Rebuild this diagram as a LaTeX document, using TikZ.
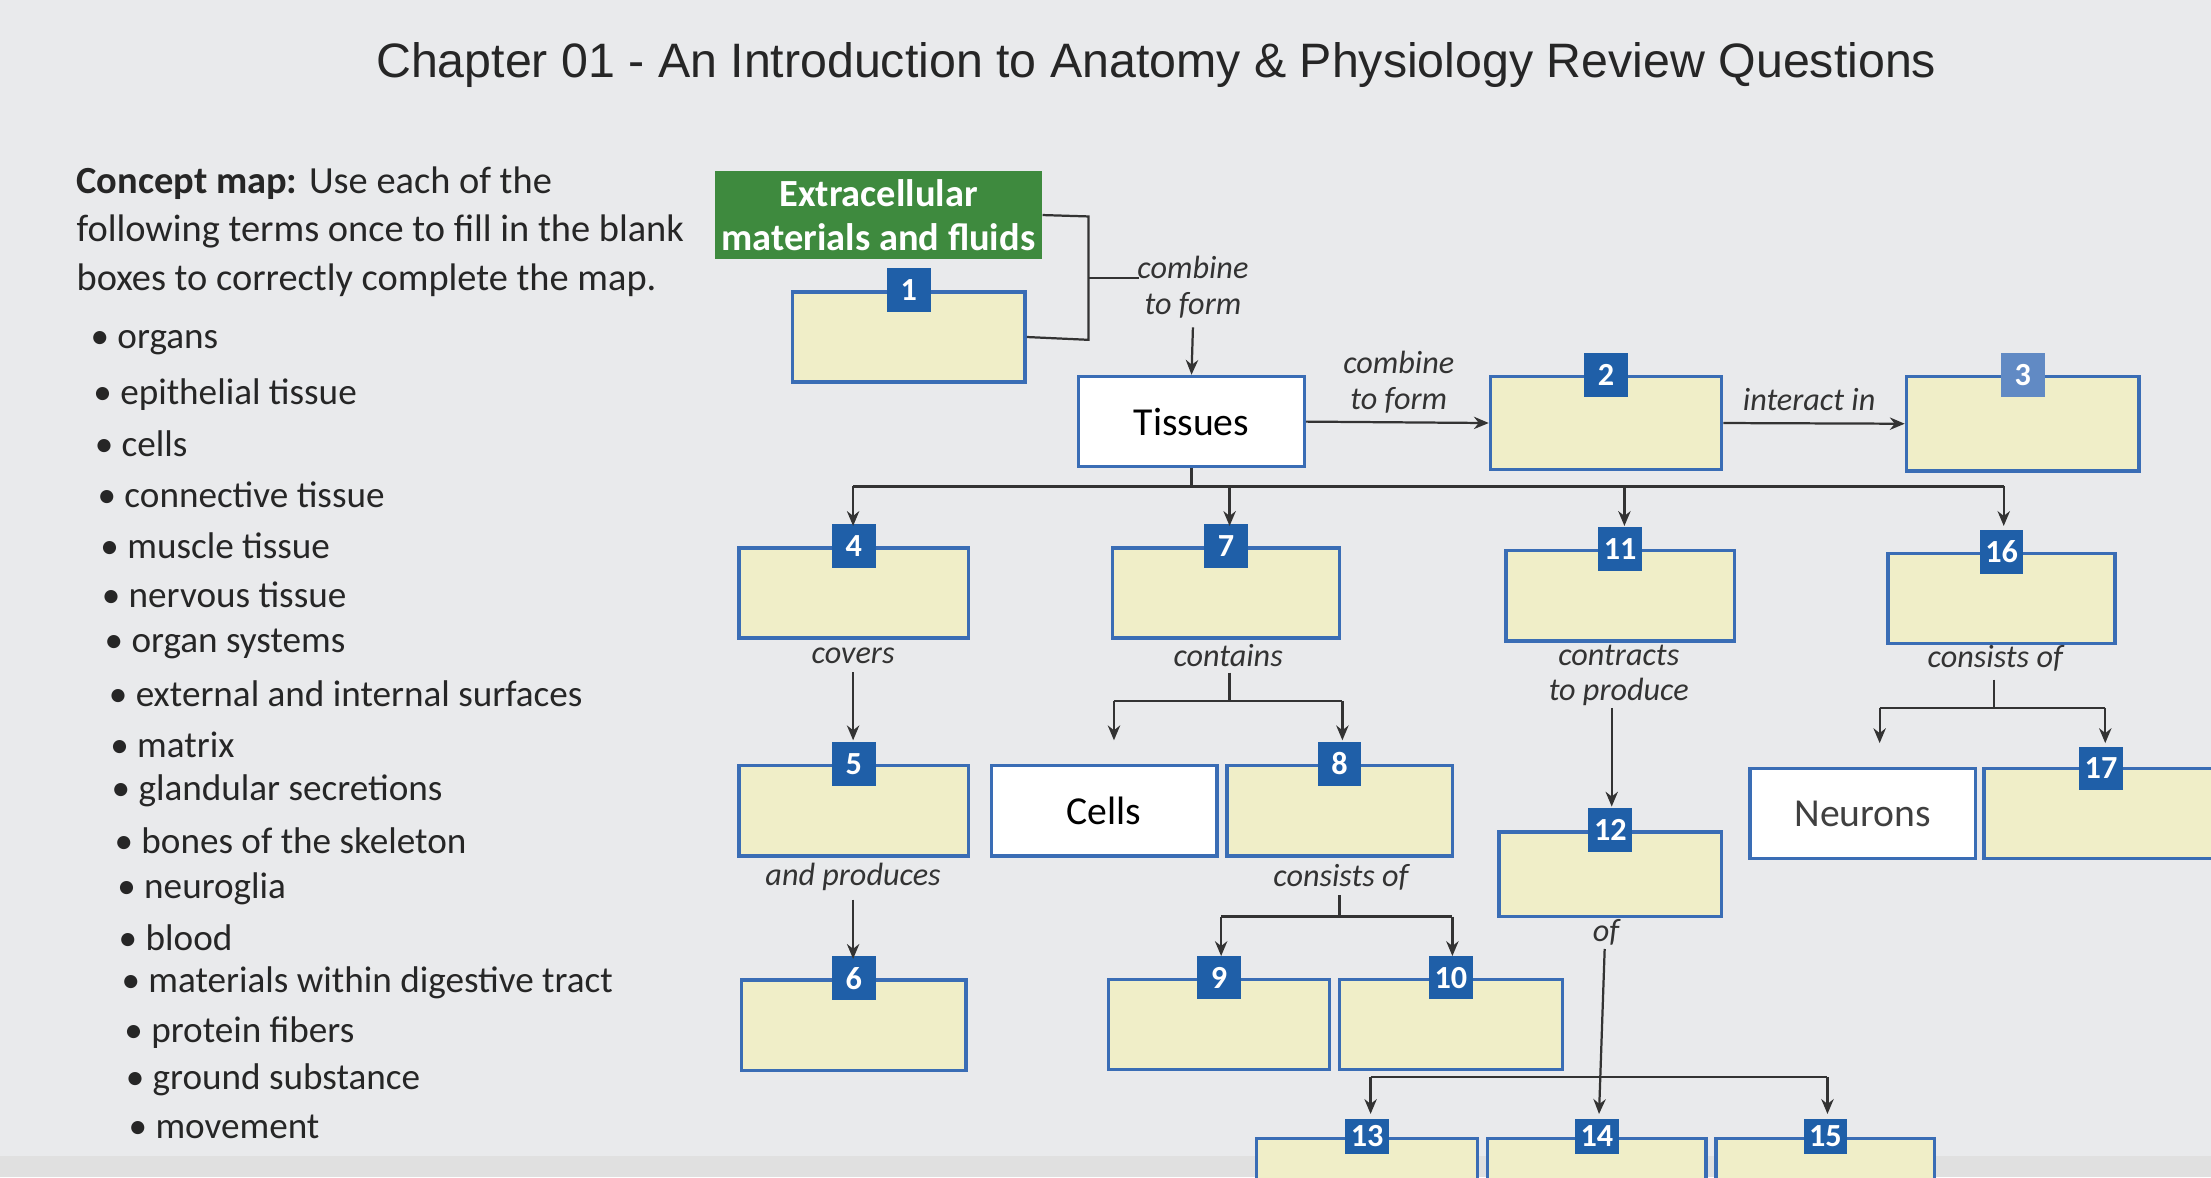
\documentclass[tikz,border=0pt]{standalone}
\usepackage{fontspec}
\setmainfont{Carlito}
\newfontfamily\titlefont{Liberation Sans}
\usetikzlibrary{arrows.meta}
\begin{document}
\definecolor{bg}{HTML}{E9EAEC}
\definecolor{bblue}{HTML}{3A6DB5}
\definecolor{badgec}{HTML}{1F5FA8}
\definecolor{byel}{HTML}{F0EEC8}
\definecolor{ggreen}{HTML}{3E8A3E}
\definecolor{ln}{HTML}{333333}
\begin{tikzpicture}[x=0.02cm,y=-0.02cm,
  box/.style={draw=bblue,line width=1.4pt,fill=byel,minimum height=1.28cm,minimum width=#1,inner sep=0pt},
  wbox/.style={box=#1,fill=white,font=\fontsize{16}{19}\selectfont},
  badge/.style={fill=badgec,text=white,font=\bfseries\fontsize{13}{15}\selectfont,minimum size=0.62cm,inner sep=0pt},
  lab/.style={font=\itshape\fontsize{13}{14.5}\selectfont,text=ln,align=center},
  con/.style={draw=ln,line width=0.9pt},
  arr/.style={con,-{Stealth[length=6pt,width=5pt]}},
  item/.style={anchor=west,font=\fontsize{15}{18}\selectfont,text=black!85}]
\useasboundingbox (0,0) rectangle (1568,835);
\clip (0,0) rectangle (1568,835);
\fill[bg] (0,0) rectangle (1568,835);
\fill[black!12] (0,820) rectangle (1568,835);
\node[font=\titlefont\fontsize{19.5}{23}\selectfont,text=black!85] (title) at (820,46) {Chapter 01 - An Introduction to Anatomy \& Physiology Review Questions};
\node[anchor=north west,align=left,font=\fontsize{15.5}{19.5}\selectfont,text=black!85,inner sep=0pt] (intro) at (54,118) {\textbf{Concept map:} Use each of the\\following terms once to fill in the blank\\boxes to correctly complete the map.};
\foreach \t/\x/\y [count=\i] in {organs/58/243, epithelial tissue/60/280, cells/61/315, connective tissue/63/351, muscle tissue/65/387, nervous tissue/66/422, organ systems/68/457, external and internal surfaces/71/492, matrix/72/528, glandular secretions/73/561, bones of the skeleton/75/596, neuroglia/77/630, blood/78/665, materials within digestive tract/80/697, protein fibers/82/732, ground substance/83/766, movement/85/799}
  \node[item] (it\i) at (\x,\y) {• \t};
% boxes
\node[fill=ggreen,text=white,font=\bfseries\fontsize{15.5}{18}\selectfont,align=center,minimum width=4.64cm,minimum height=1.26cm,inner sep=0pt] (ecm) at (623,152.5) {Extracellular\\materials and fluids};
\node[box=3.3cm] (b1) at (644.5,239) {};
\node[wbox=3.2cm] (tis) at (845,299) {Tissues};
\node[box=3.28cm,minimum height=1.32cm] (b2) at (1139,300) {};
\node[box=3.3cm,minimum height=1.34cm] (b3) at (1434.5,300.5) {};
\node[box=3.26cm] (b4) at (605.5,420.5) {};
\node[box=3.22cm] (b7) at (869.5,420.5) {};
\node[box=3.24cm] (b11) at (1149,422.5) {};
\node[box=3.22cm] (b16) at (1419.5,424.5) {};
\node[box=3.26cm] (b5) at (605.5,575) {};
\node[wbox=3.2cm] (cells) at (783,575) {Cells};
\node[box=3.2cm] (b8) at (950,575) {};
\node[box=3.16cm,minimum height=1.2cm] (b12) at (1142,620) {};
\node[wbox=3.2cm,text=black!75] (neur) at (1321,577) {Neurons};
\node[box=3.32cm] (b17) at (1490,577) {};
\node[box=3.18cm] (b6) at (605.5,727) {};
\node[box=3.14cm] (b9) at (864.5,726.5) {};
\node[box=3.16cm] (b10) at (1029,726.5) {};
\node[box=3.14cm,anchor=north] (b13) at (969.5,806) {};
\node[box=3.1cm,anchor=north] (b14) at (1132.5,806) {};
\node[box=3.1cm,anchor=north] (b15) at (1294.5,806) {};
% badges
\foreach \b/\n in {b1/1,b2/2,b4/4,b7/7,b11/11,b16/16,b5/5,b8/8,b12/12,b6/6,b9/9,b10/10}
  \node[badge] at (\b.north) {\n};
\node[badge,fill=bblue!80] at (b3.north) {3};
\node[badge] at (1490,545) {17};
\node[badge,minimum height=0.5cm] at (b13.north) {13};
\node[badge,minimum height=0.5cm] at (b14.north) {14};
\node[badge,minimum height=0.5cm] at (b15.north) {15};
% top bracket
\coordinate (brk) at (772,197);
\draw[con] (ecm.east) -- (772,153.5) -- (772,241) -- (b1.east);
\draw[con] (brk) -- (808,197);
\node[lab] (l1) at (846,204) {combine\\to form};
\draw[arr] (l1.south) -- (tis.north);
\node[lab] (l2) at (992,271) {combine\\to form};
\draw[arr] (tis.east) -- (b2.west);
\node[lab] (l3) at (1283,283) {interact in};
\draw[arr] (b2.east) -- (b3.west);
% tissues branch
\coordinate (hb) at (845,345);
\draw[con] (tis.south) -- (hb);
\draw[con] (605,345) -- (1421,345);
\foreach \b/\x in {b4/605,b7/872,b11/1152,b16/1421}
  \draw[arr] (\x,345) -- (\x,373);
\node[lab] (lc) at (605,465) {covers};
\node[lab] (lct) at (871,465) {contains};
\node[lab] (lcp) at (1148,479) {contracts\\to produce};
\node[lab] (lco) at (1415,467) {consists of};
\draw[arr] (lc.south) -- (605,525);
\draw[con] (872,477) -- (872,497);
\draw[con] (790,497) -- (952,497);
\draw[arr] (790,497) -- (790,525);
\draw[arr] (952,497) -- (952,525);
\draw[arr] (1143,502) -- (1143,572);
\draw[con] (1414,482) -- (1414,502);
\draw[con] (1333,502) -- (1493,502);
\draw[arr] (1333,502) -- (1333,527);
\draw[arr] (1493,502) -- (1493,527);
\node[lab] (lap) at (605,622) {and produces};
\draw[arr] (lap.south) -- (605,680);
\node[lab] (lco2) at (951,622) {consists of};
\draw[con] (950,635) -- (950,650);
\draw[con] (866,650) -- (1030,650);
\draw[arr] (866,650) -- (866,678);
\draw[arr] (1030,650) -- (1030,678);
\node[lab] (lof) at (1139,661) {of};
\draw[arr] (1138,673) -- (1134,790);
\draw[con] (972,764) -- (1296,764);
\draw[arr] (972,764) -- (972,790);
\draw[arr] (1296,764) -- (1296,790);
\end{tikzpicture}
\end{document}
